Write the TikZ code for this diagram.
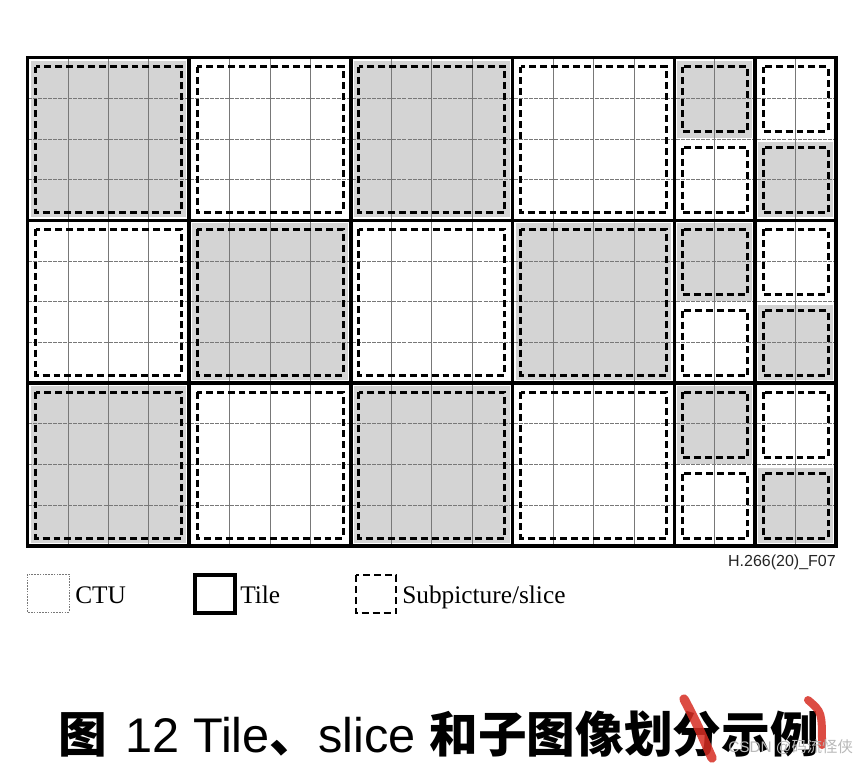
\documentclass[tikz,border=0pt]{standalone}
\usepackage{fontspec}
\setmainfont{Liberation Serif}
\newfontfamily\capfont{Liberation Sans}
\newfontfamily\cjk{Noto Sans CJK SC}
\definecolor{tilegray}{RGB}{212,212,212}
\definecolor{ctugray}{RGB}{120,120,120}
\definecolor{wmgray}{RGB}{185,185,185}
\definecolor{markred}{RGB}{215,45,35}
\begin{document}
\begin{tikzpicture}[x=0.75pt,y=-0.75pt,
  tileline/.style={line width=2.7pt},
  subline/.style={line width=2.2pt, dash pattern=on 5.2pt off 3pt},
  ctuline/.style={line width=0.55pt, ctugray},
  ctuh/.style={line width=0.55pt, ctugray, dash pattern=on 3pt off 0.8pt},
  legtext/.style={font=\fontsize{19}{19}\selectfont, anchor=base west, inner sep=0pt}]
\useasboundingbox (0,0) rectangle (860,764);
\fill[white] (0,0) rectangle (860,764);
% ---- gray fills, big tiles
\foreach \r in {0,1,2}{\foreach \c in {0,1,2,3}{
  \pgfmathsetmacro\xa{27.5+\c*161.7}
  \pgfmathsetmacro\ya{57.5+\r*162.83}
  \pgfmathtruncatemacro\pp{mod(\r+\c,2)}
  \ifnum\pp=0 \fill[tilegray] (\xa+3,\ya+3) rectangle (\xa+158.7,\ya+159.83);\fi
}}
% ---- gray fills, small tiles
\foreach \r in {0,1,2}{
  \pgfmathsetmacro\ya{57.5+\r*162.83}
  \fill[tilegray] (677.3,\ya+3) rectangle (752.1,\ya+80.4);
  \fill[tilegray] (758.1,\ya+84.4) rectangle (833,\ya+159.83);
}
% ---- CTU grid
\foreach \k in {1,...,19}{
  \draw[ctuline] (27.5+\k*40.425,57.5) -- (27.5+\k*40.425,546);
}
\foreach \k in {1,...,11}{
  \draw[ctuh] (27.5,57.5+\k*40.7) -- (836,57.5+\k*40.7);
}
% ---- subpicture / slice rectangles, big tiles
\foreach \r in {0,1,2}{\foreach \c in {0,1,2,3}{
  \pgfmathsetmacro\xa{27.5+\c*161.7}
  \pgfmathsetmacro\ya{57.5+\r*162.83}
  \draw[subline] (\xa+8,\ya+9) rectangle (\xa+154,\ya+155);
}}
% ---- subpicture / slice rectangles, small tiles
\foreach \r in {0,1,2}{\foreach \c in {0,1}{\foreach \s in {0,1}{
  \pgfmathsetmacro\xa{674.3+\c*80.85}
  \pgfmathsetmacro\ya{57.5+\r*162.83+\s*81.415}
  \draw[subline] (\xa+8,\ya+9) rectangle (\xa+73,\ya+74);
}}}
% ---- tile boundaries
\draw[tileline] (27.5,57.5) rectangle (836,546);
\foreach \xx in {189.2,350.9,512.6,674.3,755.15}{
  \draw[tileline] (\xx,57.5) -- (\xx,546);
}
\foreach \yy in {220.33,383.17}{
  \draw[tileline] (27.5,\yy) -- (836,\yy);
}
% ---- figure id
\node[anchor=base east, inner sep=0pt, font=\capfont\fontsize{12}{12}\selectfont, text=black!85] (figid) at (836,566) {H.266(20)\_F07};
% ---- legend
\draw[ctugray, line width=0.7pt, dash pattern=on 1.2pt off 0.9pt] (27,574) rectangle (69,612);
\node[legtext] (lctu) at (75,603) {CTU};
\draw[line width=2.7pt] (195,575) rectangle (235,613);
\node[legtext] (ltile) at (240,603) {Tile};
\draw[subline] (356,575) rectangle (396,613);
\node[legtext] (lsub) at (402,603) {Subpicture/slice};
% ---- caption
\node[anchor=base west, inner sep=0pt, font=\fontsize{36.5}{36.5}\selectfont] (cap) at (58,752)
  {{\cjk\bfseries 图}\hspace{14pt}{\capfont 12 Tile}{\cjk\bfseries 、}{\capfont slice }{\cjk\bfseries 和子图像划分示例}};
% ---- watermark marks
\draw[markred, line width=7pt, line cap=round, opacity=0.85] (684,699) .. controls (696,722) .. (712,758);
\draw[markred, line width=6pt, line cap=round, opacity=0.85] (808,700) .. controls (822,712) .. (822,745);
\node[anchor=base west, inner sep=0pt, text=wmgray, font=\fontsize{11.5}{11.5}\selectfont] (wm) at (728,752)
  {{\capfont CSDN @}{\cjk 码流怪侠}};
\end{tikzpicture}
\end{document}
